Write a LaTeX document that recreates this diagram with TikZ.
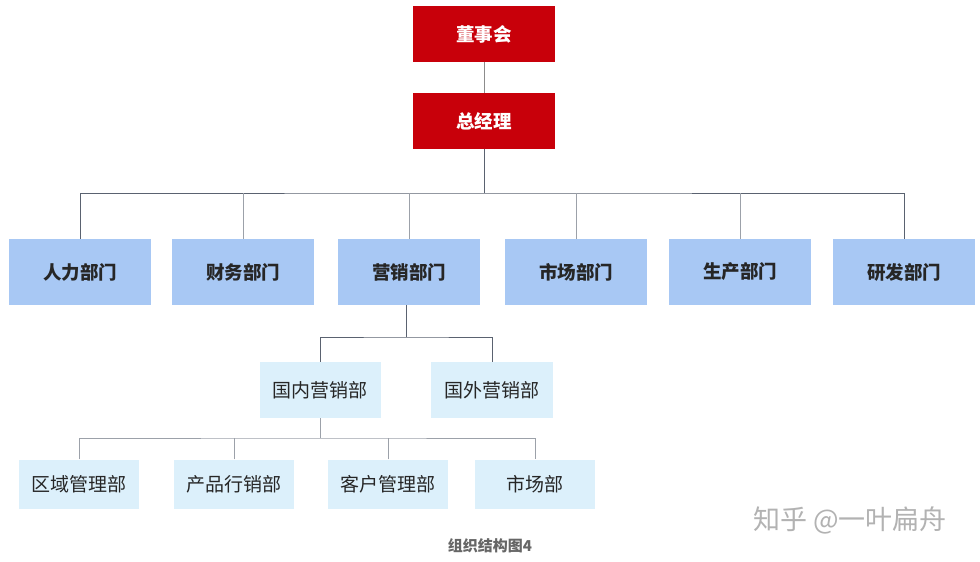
\documentclass[tikz,border=0pt]{standalone}
\usepackage{fontspec}
\newfontfamily\cjk{Noto Sans CJK SC}
\newfontfamily\cjkm{Noto Sans CJK SC Medium}
\definecolor{topred}{HTML}{C8000A}
\definecolor{midblue}{HTML}{A8C8F4}
\definecolor{lowblue}{HTML}{DCF0FB}
\definecolor{ln}{HTML}{5A6270}
\begin{document}
\begin{tikzpicture}[x=1pt,y=-1pt,
 base/.style={draw=none,minimum width=142pt,minimum height=56pt,font=\cjk\bfseries\fontsize{18.5}{22}\selectfont},
 top/.style={base,fill=topred,text=white},
 mid/.style={base,fill=midblue,minimum height=66pt,text=black!85},
 sub/.style={draw=none,fill=lowblue,minimum width=121pt,minimum height=56pt,font=\cjk\fontsize{19}{22}\selectfont,text=black!85},
 low/.style={sub,minimum width=120pt,minimum height=49pt},
 con/.style={draw=ln,line width=0.8pt}]
\useasboundingbox (0,0) rectangle (980,562);
\fill[white] (0,0) rectangle (980,562);
\node[top] (a) at (484,34) {董事会};
\node[top] (b) at (484,121) {总经理};
\node[mid] (m1) at (80,272) {人力部门};
\node[mid] (m2) at (243,272) {财务部门};
\node[mid] (m3) at (409,272) {营销部门};
\node[mid] (m4) at (576,272) {市场部门};
\node[mid] (m5) at (740,272) {生产部门};
\node[mid] (m6) at (904,272) {研发部门};
\node[sub] (s1) at (320,390) {国内营销部};
\node[sub,minimum width=122pt] (s2) at (492,390) {国外营销部};
\node[low] (l1) at (79,484) {区域管理部};
\node[low] (l2) at (234,484) {产品行销部};
\node[low] (l3) at (388,484) {客户管理部};
\node[low] (l4) at (535,484) {市场部};
\coordinate (bus) at (484,193);
\draw[con,draw=black!45] (a) -- (b);
\draw[con] (b) -- (bus);
\draw[con] (m1.north) |- (bus) -| (m6.north);
\foreach \m in {m2,m3,m4,m5} \draw[con,draw=ln!60] (\m.north) -- (\m.north |- bus);
\coordinate (j1) at (406,337);
\draw[con] (m3.south -| j1) -- (j1);
\draw[con] (s1.north) |- (j1) -| (s2.north);
\coordinate (j2) at (320,438);
\draw[con,draw=ln!60] (s1) -- (j2);
\draw[con,draw=ln!60] (l1.north) |- (j2) -| (l4.north);
\draw[con,draw=ln!60] (l2.north) -- (l2.north |- j2);
\draw[con,draw=ln!60] (l3.north) -- (l3.north |- j2);
\node[font=\cjk\bfseries\fontsize{15}{18}\selectfont,text=black!60] (cap) at (490,546) {组织结构图4};
\node[font=\cjk\fontsize{27}{32}\selectfont,text=black!30] (wm) at (850,520) {知乎 @一叶扁舟};
\end{tikzpicture}
\end{document}
